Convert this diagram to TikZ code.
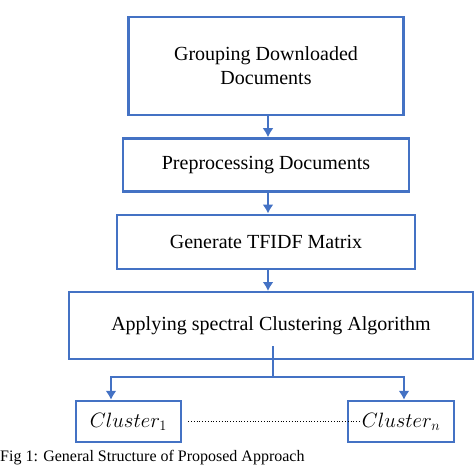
\documentclass[tikz,border=0pt]{standalone}
\usepackage{fontspec}
\setmainfont{Liberation Serif}
\usetikzlibrary{positioning, calc, arrows.meta}
\definecolor{officeblue}{RGB}{68,114,196}
\tikzset{block/.style={draw=officeblue, line width=2.4pt, align=center, font=\fontsize{20}{24}\selectfont},
line/.style={-{Latex[length=9pt, width=11pt]}, draw=officeblue, line width=2pt}
}

\begin{document}
\begin{tikzpicture}[x=1pt, y=-1pt, node distance=21pt]
\useasboundingbox (0,0) rectangle (474,468);
\node[block, minimum width=275pt, minimum height=98pt] (Grouping) at (266,66) {Grouping Downloaded\\Documents};
\node[block, minimum width=286pt, minimum height=53pt, below=of Grouping] (Preprocess) {Preprocessing Documents};
\node[block, minimum width=298pt, minimum height=54pt, below=of Preprocess] (Tfidf) {Generate TFIDF Matrix};
\node[block, minimum width=404pt, minimum height=67pt, below=of Tfidf, xshift=5pt] (Spectral) {Applying spectral Clustering Algorithm};
\node[block, minimum width=105pt, minimum height=41pt] (Cluster 1) at (128.5,421.5) {$Cluster_1$};
\node[block, minimum width=106pt, minimum height=41pt] (Cluster n) at (401,421.5) {$Cluster_n$};
\node[anchor=west, font=\fontsize{16}{19}\selectfont, inner sep=0pt] (Caption) at (0,458) {Fig 1: General Structure of Proposed Approach};

\coordinate (Split) at (273,377);
\draw[line] (Grouping.south -| 268,0) -- (Preprocess.north -| 268,0);
\draw[line] (Preprocess.south -| 268,0) -- (Tfidf.north -| 268,0);
\draw[line] (Tfidf.south -| 268,0) -- (Spectral.north -| 268,0);
\draw[officeblue, line width=2pt] ([yshift=14pt]Spectral.south -| Split) -- (Split);
\draw[line] (Split) -| (Cluster 1.north -| 111,0);
\draw[line] (Split) -| (Cluster n.north -| 404,0);
\draw[dotted, line width=0.8pt] ([xshift=6pt]Cluster 1.east) -- ([xshift=14pt]Cluster n.west);
\end{tikzpicture}
\end{document}
